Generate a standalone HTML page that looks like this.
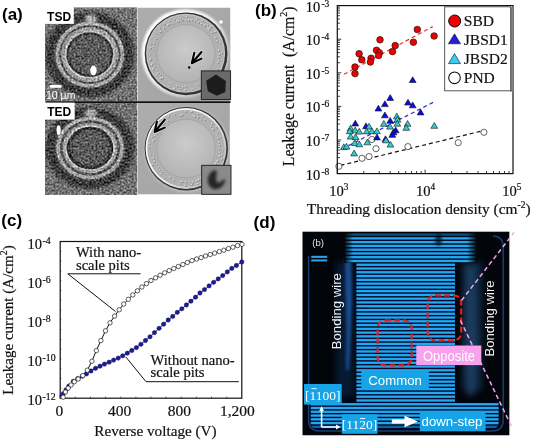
<!DOCTYPE html>
<html><head><meta charset="utf-8"><style>
html,body{margin:0;padding:0;background:#fff;}
svg{display:block;will-change:transform;}
</style></head><body>
<svg width="533" height="440" viewBox="0 0 533 440">
<rect width="533" height="440" fill="#fff"/>
<text x="2" y="19.9" font-family="Liberation Sans" font-weight="bold" font-size="17" fill="#000">(a)</text>
<defs>
<filter id="nzA" x="0" y="0" width="100%" height="100%" color-interpolation-filters="sRGB">
 <feTurbulence type="fractalNoise" baseFrequency="0.5" numOctaves="2" seed="4" result="t"/>
 <feColorMatrix in="t" type="matrix" values="1 0 0 0 0  1 0 0 0 0  1 0 0 0 0  0 0 0 0 1" result="g"/>
 <feComposite in="SourceGraphic" in2="g" operator="arithmetic" k1="0" k2="1" k3="0.8" k4="-0.4"/>
</filter>
<filter id="nzB" x="0" y="0" width="100%" height="100%" color-interpolation-filters="sRGB">
 <feTurbulence type="fractalNoise" baseFrequency="0.5" numOctaves="2" seed="11" result="t"/>
 <feColorMatrix in="t" type="matrix" values="1 0 0 0 0  1 0 0 0 0  1 0 0 0 0  0 0 0 0 1" result="g"/>
 <feComposite in="SourceGraphic" in2="g" operator="arithmetic" k1="0" k2="1" k3="0.8" k4="-0.4"/>
</filter>
<filter id="bA1" color-interpolation-filters="sRGB"><feGaussianBlur stdDeviation="0.55"/></filter>
<filter id="bA2" color-interpolation-filters="sRGB" x="-20%" y="-20%" width="140%" height="140%"><feGaussianBlur stdDeviation="1.6"/></filter>
<filter id="bA3" color-interpolation-filters="sRGB" x="-30%" y="-30%" width="160%" height="160%"><feGaussianBlur stdDeviation="3"/></filter>
<filter id="bAr" color-interpolation-filters="sRGB" x="-30%" y="-30%" width="160%" height="160%"><feGaussianBlur stdDeviation="0.6"/></filter>
<radialGradient id="diskg" cx="0.5" cy="0.42" r="0.55">
 <stop offset="0" stop-color="#cbcbcb"/><stop offset="0.55" stop-color="#bfbfbf"/><stop offset="1" stop-color="#b5b5b5"/>
</radialGradient>
<linearGradient id="haloG" x1="0.1" y1="0.2" x2="0.9" y2="0.8"><stop offset="0" stop-color="#ffffff"/><stop offset="0.5" stop-color="#efefef"/><stop offset="1" stop-color="#bbbbbb"/></linearGradient>
<filter id="bA2h" color-interpolation-filters="sRGB" x="-20%" y="-20%" width="140%" height="140%"><feGaussianBlur stdDeviation="0.9"/></filter>
<linearGradient id="bgR" x1="0" y1="0" x2="1" y2="1"><stop offset="0" stop-color="#adadad"/><stop offset="1" stop-color="#a2a2a2"/></linearGradient>
<clipPath id="cTL"><rect x="45" y="7.5" width="92.3" height="93.8"/></clipPath>
<clipPath id="cBL"><rect x="45" y="102.9" width="92.3" height="92.1"/></clipPath>
<clipPath id="cTR"><rect x="137.8" y="7.5" width="92.7" height="93.8"/></clipPath>
<clipPath id="cBR"><rect x="137.8" y="102.9" width="92" height="91.7"/></clipPath>
</defs>
<g clip-path="url(#cTL)"><g filter="url(#nzA)">
<rect x="45" y="7.5" width="93" height="93.8" fill="#727272"/>
<g transform="translate(89.8,54.6) scale(1,0.96)">
<g filter="url(#bA2)"><circle r="39.5" fill="none" stroke="#3a3a3a" stroke-width="10"/></g>
<g filter="url(#bA1)">
<circle r="34.3" fill="#aaaaaa"/>
<circle r="30.7" fill="#505050"/>
<circle r="28.8" fill="#9c9c9c"/>
<circle r="24.2" fill="none" stroke="#c4c4c4" stroke-width="1.8"/>
<circle r="23.3" fill="#333333"/>
<circle r="21.3" fill="#5a5a5a"/>
</g>
<g filter="url(#bA2)"><ellipse cx="1" cy="-37.3" rx="6.2" ry="4.2" fill="#b8b8b8"/></g>
</g>
</g>
<g filter="url(#bAr)"><ellipse cx="93.4" cy="70.5" rx="3.2" ry="5" fill="#ffffff"/></g>
</g>
<g clip-path="url(#cBL)"><g filter="url(#nzB)">
<rect x="45" y="102.9" width="93" height="92.1" fill="#727272"/>
<g transform="translate(90,148) scale(1,0.92)">
<g filter="url(#bA2)"><circle r="39.5" fill="none" stroke="#3a3a3a" stroke-width="10"/></g>
<g filter="url(#bA1)">
<circle r="33.7" fill="#aaaaaa"/>
<circle r="30.2" fill="#505050"/>
<circle r="27.5" fill="#9c9c9c"/>
<circle r="24.1" fill="none" stroke="#c4c4c4" stroke-width="1.8"/>
<circle r="23.2" fill="#333333"/>
<circle r="19.7" fill="#5a5a5a"/>
</g>
<g filter="url(#bA2)"><ellipse cx="1" cy="-37.8" rx="6.2" ry="4.2" fill="#b8b8b8"/></g>
</g>
</g>
<g filter="url(#bAr)"><ellipse cx="58.6" cy="130.2" rx="2.1" ry="4.9" fill="#ffffff"/></g>
</g>
<g clip-path="url(#cTR)">
<rect x="137.8" y="7.5" width="92.7" height="93.8" fill="url(#bgR)"/>
<g filter="url(#bA1)">
</g>
<g filter="url(#bA2h)"><circle cx="185.6" cy="53.3" r="44.1" fill="url(#haloG)"/></g>
<g filter="url(#bA1)">
<circle cx="186.1" cy="53.8" r="41.4" fill="#333333"/>
<circle cx="185.6" cy="53.3" r="39.5" fill="#c6c6c6"/>
<circle cx="185.6" cy="53.3" r="38.3" fill="#b1b1b1"/>
<circle cx="185.9" cy="53.6" r="29" fill="url(#diskg)" stroke="#a4a4a4" stroke-width="0.9"/>
</g>
<g opacity="0.9" filter="url(#bA1)"><circle cx="220.16" cy="54.64" r="0.98" fill="#7e7e7e"/><circle cx="219.31" cy="53.79" r="0.88" fill="#e2e2e2"/><circle cx="218.84" cy="58.17" r="0.79" fill="#7e7e7e"/><circle cx="217.99" cy="57.32" r="0.71" fill="#e2e2e2"/><circle cx="219.6" cy="61.05" r="0.65" fill="#7e7e7e"/><circle cx="218.75" cy="60.2" r="0.58" fill="#e2e2e2"/><circle cx="218.52" cy="63.35" r="0.83" fill="#7e7e7e"/><circle cx="217.67" cy="62.5" r="0.75" fill="#e2e2e2"/><circle cx="213.97" cy="73.55" r="0.66" fill="#7e7e7e"/><circle cx="213.12" cy="72.7" r="0.6" fill="#e2e2e2"/><circle cx="212.77" cy="74.81" r="0.65" fill="#7e7e7e"/><circle cx="211.92" cy="73.96" r="0.59" fill="#e2e2e2"/><circle cx="207.76" cy="79.22" r="0.99" fill="#7e7e7e"/><circle cx="206.91" cy="78.37" r="0.89" fill="#e2e2e2"/><circle cx="205.66" cy="82.13" r="0.82" fill="#7e7e7e"/><circle cx="204.81" cy="81.28" r="0.73" fill="#e2e2e2"/><circle cx="202.97" cy="83.77" r="0.88" fill="#7e7e7e"/><circle cx="202.12" cy="82.92" r="0.79" fill="#e2e2e2"/><circle cx="198.36" cy="84.94" r="0.74" fill="#7e7e7e"/><circle cx="197.51" cy="84.09" r="0.67" fill="#e2e2e2"/><circle cx="186.25" cy="86.75" r="0.87" fill="#7e7e7e"/><circle cx="185.4" cy="85.9" r="0.78" fill="#e2e2e2"/><circle cx="183.53" cy="87.77" r="0.79" fill="#7e7e7e"/><circle cx="182.68" cy="86.92" r="0.71" fill="#e2e2e2"/><circle cx="179.93" cy="87.1" r="0.62" fill="#7e7e7e"/><circle cx="179.08" cy="86.25" r="0.56" fill="#e2e2e2"/><circle cx="177.61" cy="86.62" r="0.94" fill="#7e7e7e"/><circle cx="176.76" cy="85.77" r="0.84" fill="#e2e2e2"/><circle cx="170.94" cy="83.74" r="0.6" fill="#7e7e7e"/><circle cx="170.09" cy="82.89" r="0.54" fill="#e2e2e2"/><circle cx="163.09" cy="78.38" r="0.97" fill="#7e7e7e"/><circle cx="162.24" cy="77.53" r="0.87" fill="#e2e2e2"/><circle cx="161.06" cy="75.38" r="0.81" fill="#7e7e7e"/><circle cx="160.21" cy="74.53" r="0.73" fill="#e2e2e2"/><circle cx="158.92" cy="73.5" r="0.92" fill="#7e7e7e"/><circle cx="158.07" cy="72.65" r="0.83" fill="#e2e2e2"/><circle cx="156.99" cy="70.97" r="0.64" fill="#7e7e7e"/><circle cx="156.14" cy="70.12" r="0.57" fill="#e2e2e2"/><circle cx="155.06" cy="66.91" r="0.74" fill="#7e7e7e"/><circle cx="154.21" cy="66.06" r="0.66" fill="#e2e2e2"/><circle cx="154.81" cy="63.65" r="0.73" fill="#7e7e7e"/><circle cx="153.96" cy="62.8" r="0.65" fill="#e2e2e2"/><circle cx="153.89" cy="49.96" r="0.62" fill="#7e7e7e"/><circle cx="153.04" cy="49.11" r="0.56" fill="#e2e2e2"/><circle cx="153.93" cy="47.61" r="0.69" fill="#7e7e7e"/><circle cx="153.08" cy="46.76" r="0.63" fill="#e2e2e2"/><circle cx="154.84" cy="43.88" r="0.77" fill="#7e7e7e"/><circle cx="153.99" cy="43.03" r="0.69" fill="#e2e2e2"/><circle cx="156.66" cy="39.29" r="0.94" fill="#7e7e7e"/><circle cx="155.81" cy="38.44" r="0.84" fill="#e2e2e2"/><circle cx="161.15" cy="32.22" r="0.92" fill="#7e7e7e"/><circle cx="160.3" cy="31.37" r="0.82" fill="#e2e2e2"/><circle cx="164.47" cy="28.49" r="0.72" fill="#7e7e7e"/><circle cx="163.62" cy="27.64" r="0.65" fill="#e2e2e2"/><circle cx="168.53" cy="25.5" r="0.99" fill="#7e7e7e"/><circle cx="167.68" cy="24.65" r="0.89" fill="#e2e2e2"/><circle cx="170.58" cy="24.51" r="0.79" fill="#7e7e7e"/><circle cx="169.73" cy="23.66" r="0.71" fill="#e2e2e2"/><circle cx="173.72" cy="23.92" r="0.75" fill="#7e7e7e"/><circle cx="172.87" cy="23.07" r="0.68" fill="#e2e2e2"/><circle cx="177.62" cy="21.86" r="0.8" fill="#7e7e7e"/><circle cx="176.77" cy="21.01" r="0.72" fill="#e2e2e2"/><circle cx="179.22" cy="21.97" r="0.91" fill="#7e7e7e"/><circle cx="178.37" cy="21.12" r="0.82" fill="#e2e2e2"/><circle cx="182.87" cy="20.64" r="0.91" fill="#7e7e7e"/><circle cx="182.02" cy="19.79" r="0.82" fill="#e2e2e2"/><circle cx="186.78" cy="20.49" r="0.75" fill="#7e7e7e"/><circle cx="185.93" cy="19.64" r="0.67" fill="#e2e2e2"/><circle cx="189.28" cy="20.99" r="0.91" fill="#7e7e7e"/><circle cx="188.43" cy="20.14" r="0.82" fill="#e2e2e2"/><circle cx="192.66" cy="20.8" r="0.86" fill="#7e7e7e"/><circle cx="191.81" cy="19.95" r="0.77" fill="#e2e2e2"/><circle cx="195.2" cy="21.95" r="0.7" fill="#7e7e7e"/><circle cx="194.35" cy="21.1" r="0.63" fill="#e2e2e2"/><circle cx="199.29" cy="22.95" r="0.86" fill="#7e7e7e"/><circle cx="198.44" cy="22.1" r="0.77" fill="#e2e2e2"/><circle cx="201.97" cy="24.46" r="0.9" fill="#7e7e7e"/><circle cx="201.12" cy="23.61" r="0.81" fill="#e2e2e2"/><circle cx="204.96" cy="25.9" r="0.95" fill="#7e7e7e"/><circle cx="204.11" cy="25.05" r="0.85" fill="#e2e2e2"/><circle cx="208.72" cy="28.54" r="0.81" fill="#7e7e7e"/><circle cx="207.87" cy="27.69" r="0.73" fill="#e2e2e2"/><circle cx="209.85" cy="29.8" r="0.97" fill="#7e7e7e"/><circle cx="209" cy="28.95" r="0.88" fill="#e2e2e2"/><circle cx="212.67" cy="33.13" r="0.89" fill="#7e7e7e"/><circle cx="211.82" cy="32.28" r="0.8" fill="#e2e2e2"/><circle cx="216.1" cy="38.49" r="0.77" fill="#7e7e7e"/><circle cx="215.25" cy="37.64" r="0.69" fill="#e2e2e2"/><circle cx="217.6" cy="41.85" r="0.89" fill="#7e7e7e"/><circle cx="216.75" cy="41" r="0.8" fill="#e2e2e2"/><circle cx="219.23" cy="51.22" r="0.87" fill="#7e7e7e"/><circle cx="218.38" cy="50.37" r="0.79" fill="#e2e2e2"/><circle cx="222.59" cy="53.16" r="0.69" fill="#7e7e7e"/><circle cx="221.74" cy="52.31" r="0.62" fill="#e2e2e2"/><circle cx="218.52" cy="69.72" r="0.61" fill="#7e7e7e"/><circle cx="217.67" cy="68.87" r="0.55" fill="#e2e2e2"/><circle cx="216.05" cy="75.33" r="0.84" fill="#7e7e7e"/><circle cx="215.2" cy="74.48" r="0.75" fill="#e2e2e2"/><circle cx="208.49" cy="82.65" r="0.71" fill="#7e7e7e"/><circle cx="207.64" cy="81.8" r="0.64" fill="#e2e2e2"/><circle cx="203.91" cy="86.54" r="0.75" fill="#7e7e7e"/><circle cx="203.06" cy="85.69" r="0.67" fill="#e2e2e2"/><circle cx="193" cy="89.84" r="0.74" fill="#7e7e7e"/><circle cx="192.15" cy="88.99" r="0.66" fill="#e2e2e2"/><circle cx="185.44" cy="90.91" r="0.77" fill="#7e7e7e"/><circle cx="184.59" cy="90.06" r="0.69" fill="#e2e2e2"/><circle cx="180.52" cy="89.62" r="0.66" fill="#7e7e7e"/><circle cx="179.67" cy="88.77" r="0.59" fill="#e2e2e2"/><circle cx="174.87" cy="89.32" r="0.99" fill="#7e7e7e"/><circle cx="174.02" cy="88.47" r="0.89" fill="#e2e2e2"/><circle cx="169.99" cy="87.18" r="0.6" fill="#7e7e7e"/><circle cx="169.14" cy="86.33" r="0.54" fill="#e2e2e2"/><circle cx="161.14" cy="79.12" r="0.85" fill="#7e7e7e"/><circle cx="160.29" cy="78.27" r="0.77" fill="#e2e2e2"/><circle cx="157.42" cy="75.57" r="0.69" fill="#7e7e7e"/><circle cx="156.57" cy="74.72" r="0.62" fill="#e2e2e2"/><circle cx="153.94" cy="69.57" r="0.98" fill="#7e7e7e"/><circle cx="153.09" cy="68.72" r="0.89" fill="#e2e2e2"/><circle cx="152.37" cy="65.01" r="0.99" fill="#7e7e7e"/><circle cx="151.52" cy="64.16" r="0.89" fill="#e2e2e2"/><circle cx="151.05" cy="59.94" r="0.99" fill="#7e7e7e"/><circle cx="150.2" cy="59.09" r="0.89" fill="#e2e2e2"/><circle cx="150.29" cy="54.61" r="0.65" fill="#7e7e7e"/><circle cx="149.44" cy="53.76" r="0.58" fill="#e2e2e2"/><circle cx="151.04" cy="48.67" r="0.91" fill="#7e7e7e"/><circle cx="150.19" cy="47.82" r="0.82" fill="#e2e2e2"/><circle cx="151.65" cy="43.96" r="0.71" fill="#7e7e7e"/><circle cx="150.8" cy="43.11" r="0.64" fill="#e2e2e2"/><circle cx="154.88" cy="37.39" r="0.71" fill="#7e7e7e"/><circle cx="154.03" cy="36.54" r="0.64" fill="#e2e2e2"/><circle cx="160.4" cy="28.74" r="0.79" fill="#7e7e7e"/><circle cx="159.55" cy="27.89" r="0.71" fill="#e2e2e2"/><circle cx="165.1" cy="24.38" r="0.65" fill="#7e7e7e"/><circle cx="164.25" cy="23.53" r="0.58" fill="#e2e2e2"/><circle cx="169.6" cy="22.04" r="0.73" fill="#7e7e7e"/><circle cx="168.75" cy="21.19" r="0.66" fill="#e2e2e2"/><circle cx="175.35" cy="19.76" r="0.74" fill="#7e7e7e"/><circle cx="174.5" cy="18.91" r="0.67" fill="#e2e2e2"/><circle cx="181.11" cy="19.19" r="0.7" fill="#7e7e7e"/><circle cx="180.26" cy="18.34" r="0.63" fill="#e2e2e2"/><circle cx="187.37" cy="17.26" r="0.82" fill="#7e7e7e"/><circle cx="186.52" cy="16.41" r="0.74" fill="#e2e2e2"/><circle cx="197.53" cy="19.54" r="0.88" fill="#7e7e7e"/><circle cx="196.68" cy="18.69" r="0.79" fill="#e2e2e2"/><circle cx="203.19" cy="21.22" r="0.75" fill="#7e7e7e"/><circle cx="202.34" cy="20.37" r="0.68" fill="#e2e2e2"/><circle cx="208.01" cy="25.75" r="0.72" fill="#7e7e7e"/><circle cx="207.16" cy="24.9" r="0.65" fill="#e2e2e2"/><circle cx="211.79" cy="27.46" r="0.88" fill="#7e7e7e"/><circle cx="210.94" cy="26.61" r="0.79" fill="#e2e2e2"/><circle cx="215.87" cy="32.2" r="0.96" fill="#7e7e7e"/><circle cx="215.02" cy="31.35" r="0.87" fill="#e2e2e2"/><circle cx="220.91" cy="43.07" r="0.73" fill="#7e7e7e"/><circle cx="220.06" cy="42.22" r="0.66" fill="#e2e2e2"/></g>
</g>
<g clip-path="url(#cBR)">
<rect x="137.8" y="102.9" width="92.7" height="91.7" fill="url(#bgR)"/>
<g filter="url(#bA1)">
</g>
<g filter="url(#bA2h)"><circle cx="186.9" cy="149.6" r="43" fill="#bcbcbc"/></g>
<g filter="url(#bA1)">
<circle cx="186.3" cy="148.8" r="41.7" fill="#333333"/>
<circle cx="186" cy="148.5" r="40.4" fill="url(#haloG)"/>
<circle cx="185.8" cy="148.3" r="38.6" fill="#b1b1b1"/>
<circle cx="186.1" cy="148.6" r="29.3" fill="url(#diskg)" stroke="#a4a4a4" stroke-width="0.9"/>
</g>
<g opacity="0.9" filter="url(#bA1)"><circle cx="219.64" cy="149.77" r="0.69" fill="#7e7e7e"/><circle cx="218.79" cy="148.92" r="0.62" fill="#e2e2e2"/><circle cx="220.25" cy="153.05" r="0.61" fill="#7e7e7e"/><circle cx="219.4" cy="152.2" r="0.55" fill="#e2e2e2"/><circle cx="220.08" cy="156.8" r="0.88" fill="#7e7e7e"/><circle cx="219.23" cy="155.95" r="0.79" fill="#e2e2e2"/><circle cx="218.09" cy="161.56" r="0.98" fill="#7e7e7e"/><circle cx="217.24" cy="160.71" r="0.88" fill="#e2e2e2"/><circle cx="216.36" cy="164.2" r="0.97" fill="#7e7e7e"/><circle cx="215.51" cy="163.35" r="0.87" fill="#e2e2e2"/><circle cx="212.36" cy="170.03" r="0.85" fill="#7e7e7e"/><circle cx="211.51" cy="169.18" r="0.76" fill="#e2e2e2"/><circle cx="205.67" cy="176.09" r="0.83" fill="#7e7e7e"/><circle cx="204.82" cy="175.24" r="0.75" fill="#e2e2e2"/><circle cx="201.58" cy="178.68" r="0.77" fill="#7e7e7e"/><circle cx="200.73" cy="177.83" r="0.7" fill="#e2e2e2"/><circle cx="199.32" cy="180.26" r="0.98" fill="#7e7e7e"/><circle cx="198.47" cy="179.41" r="0.88" fill="#e2e2e2"/><circle cx="197.34" cy="181.29" r="0.66" fill="#7e7e7e"/><circle cx="196.49" cy="180.44" r="0.59" fill="#e2e2e2"/><circle cx="193.31" cy="182.67" r="0.82" fill="#7e7e7e"/><circle cx="192.46" cy="181.82" r="0.74" fill="#e2e2e2"/><circle cx="190.43" cy="182.61" r="0.7" fill="#7e7e7e"/><circle cx="189.58" cy="181.76" r="0.63" fill="#e2e2e2"/><circle cx="186.62" cy="182.24" r="0.69" fill="#7e7e7e"/><circle cx="185.77" cy="181.39" r="0.62" fill="#e2e2e2"/><circle cx="182.93" cy="182.09" r="0.89" fill="#7e7e7e"/><circle cx="182.08" cy="181.24" r="0.8" fill="#e2e2e2"/><circle cx="180.88" cy="182.49" r="0.64" fill="#7e7e7e"/><circle cx="180.03" cy="181.64" r="0.57" fill="#e2e2e2"/><circle cx="174.09" cy="180.88" r="0.79" fill="#7e7e7e"/><circle cx="173.24" cy="180.03" r="0.71" fill="#e2e2e2"/><circle cx="170.61" cy="177.92" r="0.89" fill="#7e7e7e"/><circle cx="169.76" cy="177.07" r="0.8" fill="#e2e2e2"/><circle cx="162.91" cy="172.38" r="0.65" fill="#7e7e7e"/><circle cx="162.06" cy="171.53" r="0.58" fill="#e2e2e2"/><circle cx="160.12" cy="170.49" r="0.66" fill="#7e7e7e"/><circle cx="159.27" cy="169.64" r="0.59" fill="#e2e2e2"/><circle cx="159.18" cy="167.85" r="0.73" fill="#7e7e7e"/><circle cx="158.33" cy="167" r="0.66" fill="#e2e2e2"/><circle cx="157.3" cy="165.18" r="0.65" fill="#7e7e7e"/><circle cx="156.45" cy="164.33" r="0.59" fill="#e2e2e2"/><circle cx="155.1" cy="161.89" r="0.77" fill="#7e7e7e"/><circle cx="154.25" cy="161.04" r="0.7" fill="#e2e2e2"/><circle cx="154.36" cy="158.91" r="0.83" fill="#7e7e7e"/><circle cx="153.51" cy="158.06" r="0.75" fill="#e2e2e2"/><circle cx="154.29" cy="155.8" r="0.61" fill="#7e7e7e"/><circle cx="153.44" cy="154.95" r="0.55" fill="#e2e2e2"/><circle cx="152.85" cy="145.86" r="0.6" fill="#7e7e7e"/><circle cx="152" cy="145.01" r="0.54" fill="#e2e2e2"/><circle cx="153.69" cy="141.79" r="0.77" fill="#7e7e7e"/><circle cx="152.84" cy="140.94" r="0.69" fill="#e2e2e2"/><circle cx="154.74" cy="140.3" r="0.66" fill="#7e7e7e"/><circle cx="153.89" cy="139.45" r="0.6" fill="#e2e2e2"/><circle cx="155.03" cy="136.3" r="0.66" fill="#7e7e7e"/><circle cx="154.18" cy="135.45" r="0.59" fill="#e2e2e2"/><circle cx="157.23" cy="133.93" r="0.71" fill="#7e7e7e"/><circle cx="156.38" cy="133.08" r="0.64" fill="#e2e2e2"/><circle cx="159.62" cy="128.21" r="0.75" fill="#7e7e7e"/><circle cx="158.77" cy="127.36" r="0.67" fill="#e2e2e2"/><circle cx="162.99" cy="124.95" r="0.79" fill="#7e7e7e"/><circle cx="162.14" cy="124.1" r="0.71" fill="#e2e2e2"/><circle cx="164.59" cy="123.49" r="0.72" fill="#7e7e7e"/><circle cx="163.74" cy="122.64" r="0.64" fill="#e2e2e2"/><circle cx="168.63" cy="121.35" r="0.68" fill="#7e7e7e"/><circle cx="167.78" cy="120.5" r="0.61" fill="#e2e2e2"/><circle cx="181.07" cy="116.21" r="0.72" fill="#7e7e7e"/><circle cx="180.22" cy="115.36" r="0.65" fill="#e2e2e2"/><circle cx="182.89" cy="115.43" r="0.89" fill="#7e7e7e"/><circle cx="182.04" cy="114.58" r="0.8" fill="#e2e2e2"/><circle cx="194.12" cy="116.18" r="0.77" fill="#7e7e7e"/><circle cx="193.27" cy="115.33" r="0.7" fill="#e2e2e2"/><circle cx="195.29" cy="117.32" r="0.91" fill="#7e7e7e"/><circle cx="194.44" cy="116.47" r="0.82" fill="#e2e2e2"/><circle cx="198.68" cy="117.7" r="1" fill="#7e7e7e"/><circle cx="197.83" cy="116.85" r="0.9" fill="#e2e2e2"/><circle cx="201.96" cy="119.88" r="0.63" fill="#7e7e7e"/><circle cx="201.11" cy="119.03" r="0.57" fill="#e2e2e2"/><circle cx="205.64" cy="120.7" r="0.62" fill="#7e7e7e"/><circle cx="204.79" cy="119.85" r="0.56" fill="#e2e2e2"/><circle cx="211.79" cy="127.38" r="0.76" fill="#7e7e7e"/><circle cx="210.94" cy="126.53" r="0.69" fill="#e2e2e2"/><circle cx="213.55" cy="130.11" r="0.99" fill="#7e7e7e"/><circle cx="212.7" cy="129.26" r="0.89" fill="#e2e2e2"/><circle cx="217.66" cy="136.09" r="0.63" fill="#7e7e7e"/><circle cx="216.81" cy="135.24" r="0.57" fill="#e2e2e2"/><circle cx="218.62" cy="138.62" r="0.97" fill="#7e7e7e"/><circle cx="217.77" cy="137.77" r="0.87" fill="#e2e2e2"/><circle cx="219.34" cy="143.37" r="0.61" fill="#7e7e7e"/><circle cx="218.49" cy="142.52" r="0.55" fill="#e2e2e2"/><circle cx="220.19" cy="145.82" r="0.75" fill="#7e7e7e"/><circle cx="219.34" cy="144.97" r="0.68" fill="#e2e2e2"/><circle cx="223.89" cy="149.65" r="0.72" fill="#7e7e7e"/><circle cx="223.04" cy="148.8" r="0.65" fill="#e2e2e2"/><circle cx="222.09" cy="155.48" r="0.65" fill="#7e7e7e"/><circle cx="221.24" cy="154.63" r="0.58" fill="#e2e2e2"/><circle cx="222.1" cy="159.71" r="0.93" fill="#7e7e7e"/><circle cx="221.25" cy="158.86" r="0.83" fill="#e2e2e2"/><circle cx="218.85" cy="164.67" r="0.7" fill="#7e7e7e"/><circle cx="218" cy="163.82" r="0.63" fill="#e2e2e2"/><circle cx="212.02" cy="174.75" r="0.62" fill="#7e7e7e"/><circle cx="211.17" cy="173.9" r="0.56" fill="#e2e2e2"/><circle cx="208.57" cy="177.66" r="0.71" fill="#7e7e7e"/><circle cx="207.72" cy="176.81" r="0.64" fill="#e2e2e2"/><circle cx="203.93" cy="181.14" r="0.73" fill="#7e7e7e"/><circle cx="203.08" cy="180.29" r="0.65" fill="#e2e2e2"/><circle cx="198.03" cy="184.58" r="0.86" fill="#7e7e7e"/><circle cx="197.18" cy="183.73" r="0.78" fill="#e2e2e2"/><circle cx="192.18" cy="185.12" r="0.93" fill="#7e7e7e"/><circle cx="191.33" cy="184.27" r="0.83" fill="#e2e2e2"/><circle cx="185.64" cy="186.05" r="0.88" fill="#7e7e7e"/><circle cx="184.79" cy="185.2" r="0.79" fill="#e2e2e2"/><circle cx="180.3" cy="184.88" r="0.65" fill="#7e7e7e"/><circle cx="179.45" cy="184.03" r="0.59" fill="#e2e2e2"/><circle cx="165.12" cy="178.14" r="0.63" fill="#7e7e7e"/><circle cx="164.27" cy="177.29" r="0.56" fill="#e2e2e2"/><circle cx="161.36" cy="174.27" r="0.62" fill="#7e7e7e"/><circle cx="160.51" cy="173.42" r="0.56" fill="#e2e2e2"/><circle cx="153.05" cy="165.37" r="0.84" fill="#7e7e7e"/><circle cx="152.2" cy="164.52" r="0.76" fill="#e2e2e2"/><circle cx="150.95" cy="155.11" r="0.6" fill="#7e7e7e"/><circle cx="150.1" cy="154.26" r="0.54" fill="#e2e2e2"/><circle cx="149.75" cy="148.43" r="0.64" fill="#7e7e7e"/><circle cx="148.9" cy="147.58" r="0.57" fill="#e2e2e2"/><circle cx="150.12" cy="144.1" r="0.78" fill="#7e7e7e"/><circle cx="149.27" cy="143.25" r="0.7" fill="#e2e2e2"/><circle cx="152.79" cy="137.48" r="0.73" fill="#7e7e7e"/><circle cx="151.94" cy="136.63" r="0.65" fill="#e2e2e2"/><circle cx="154.2" cy="132.71" r="0.78" fill="#7e7e7e"/><circle cx="153.35" cy="131.86" r="0.7" fill="#e2e2e2"/><circle cx="157.65" cy="126.89" r="0.99" fill="#7e7e7e"/><circle cx="156.8" cy="126.04" r="0.89" fill="#e2e2e2"/><circle cx="159.82" cy="123.57" r="0.77" fill="#7e7e7e"/><circle cx="158.97" cy="122.72" r="0.69" fill="#e2e2e2"/><circle cx="169.11" cy="116.98" r="0.79" fill="#7e7e7e"/><circle cx="168.26" cy="116.13" r="0.71" fill="#e2e2e2"/><circle cx="175.31" cy="115" r="0.71" fill="#7e7e7e"/><circle cx="174.46" cy="114.15" r="0.64" fill="#e2e2e2"/><circle cx="186.33" cy="112.2" r="0.7" fill="#7e7e7e"/><circle cx="185.48" cy="111.35" r="0.63" fill="#e2e2e2"/><circle cx="191.94" cy="112.16" r="0.94" fill="#7e7e7e"/><circle cx="191.09" cy="111.31" r="0.84" fill="#e2e2e2"/><circle cx="198.12" cy="114.69" r="0.66" fill="#7e7e7e"/><circle cx="197.27" cy="113.84" r="0.59" fill="#e2e2e2"/><circle cx="202.82" cy="117.36" r="0.67" fill="#7e7e7e"/><circle cx="201.97" cy="116.51" r="0.6" fill="#e2e2e2"/><circle cx="212.68" cy="124.34" r="0.92" fill="#7e7e7e"/><circle cx="211.83" cy="123.49" r="0.83" fill="#e2e2e2"/><circle cx="216.95" cy="127.64" r="0.85" fill="#7e7e7e"/><circle cx="216.1" cy="126.79" r="0.76" fill="#e2e2e2"/><circle cx="218.27" cy="132.74" r="0.8" fill="#7e7e7e"/><circle cx="217.42" cy="131.89" r="0.72" fill="#e2e2e2"/><circle cx="220.96" cy="137.28" r="0.73" fill="#7e7e7e"/><circle cx="220.11" cy="136.43" r="0.65" fill="#e2e2e2"/></g>
</g>
<g filter="url(#bAr)"><circle cx="221" cy="22" r="1.8" fill="#fff"/></g>
<rect x="201.3" y="70.9" width="29.3" height="28.6" fill="#6a6a6a" stroke="#1a1a1a" stroke-width="0.9"/>
<g filter="url(#bAr)"><polygon points="216,74.4 225.8,81.1 225.4,92.1 216.8,95.8 207.8,91.3 206.2,80.7" fill="#1c1c1c"/></g>
<rect x="201.7" y="165.3" width="29.3" height="29" fill="#8a8a8a" stroke="#1a1a1a" stroke-width="0.9"/>
<g filter="url(#bA2)"><path d="M214.5,170 C210,172 207.5,176 207.8,181 C208.2,186 211.5,189.5 216,189.3 C220.5,189 224,185.5 225.5,180 C224.5,179 223,179.5 221.5,181 C219.5,183 217.5,183 216.5,181 C215.8,179 216.5,175 217,171.5 Z" fill="#262626"/></g>
<path d="M201.5,52 L191.8,63.2 M194.3,52.8 L191.8,63.2 L201.5,58.6" stroke="#fff" stroke-opacity="0.5" stroke-width="3.7" fill="none" stroke-linecap="round" stroke-linejoin="round"/><path d="M201.5,52 L191.8,63.2 M194.3,52.8 L191.8,63.2 L201.5,58.6" stroke="#000" stroke-width="2.1" fill="none" stroke-linecap="round" stroke-linejoin="round"/>
<circle cx="189.2" cy="67.5" r="1.2" fill="#000"/>
<path d="M164.8,119.6 L154.6,132 M156.9,121.6 L154.6,132 L164.8,127.6" stroke="#fff" stroke-opacity="0.5" stroke-width="3.7" fill="none" stroke-linecap="round" stroke-linejoin="round"/><path d="M164.8,119.6 L154.6,132 M156.9,121.6 L154.6,132 L164.8,127.6" stroke="#000" stroke-width="2.1" fill="none" stroke-linecap="round" stroke-linejoin="round"/>
<rect x="45.5" y="101.2" width="185" height="1.8" fill="#111"/>
<rect x="44" y="6" width="29.8" height="17.9" fill="#fff"/>
<text x="47.1" y="20.6" font-family="Liberation Sans" font-weight="bold" font-size="12" fill="#000">TSD</text>
<rect x="44" y="102.6" width="30.6" height="17" fill="#fff"/>
<text x="47.2" y="115.6" font-family="Liberation Sans" font-weight="bold" font-size="12" fill="#000">TED</text>
<rect x="50" y="85" width="11.5" height="2.8" fill="#fff"/>
<text x="46" y="98.8" font-family="Liberation Sans" font-size="10.5" fill="#fff">10 &#181;m</text>
<text x="255" y="15.5" font-family="Liberation Sans" font-weight="bold" font-size="17" fill="#000">(b)</text>
<path d="M337.3,173.6h4M337.3,163.49h2.6M337.3,157.57h2.6M337.3,153.37h2.6M337.3,150.11h2.6M337.3,147.45h2.6M337.3,145.2h2.6M337.3,143.26h2.6M337.3,141.54h2.6M337.3,140h4M337.3,129.89h2.6M337.3,123.97h2.6M337.3,119.77h2.6M337.3,116.51h2.6M337.3,113.85h2.6M337.3,111.6h2.6M337.3,109.66h2.6M337.3,107.94h2.6M337.3,106.4h4M337.3,96.29h2.6M337.3,90.37h2.6M337.3,86.17h2.6M337.3,82.91h2.6M337.3,80.25h2.6M337.3,78h2.6M337.3,76.06h2.6M337.3,74.34h2.6M337.3,72.8h4M337.3,62.69h2.6M337.3,56.77h2.6M337.3,52.57h2.6M337.3,49.31h2.6M337.3,46.65h2.6M337.3,44.4h2.6M337.3,42.46h2.6M337.3,40.74h2.6M337.3,39.2h4M337.3,29.09h2.6M337.3,23.17h2.6M337.3,18.97h2.6M337.3,15.71h2.6M337.3,13.05h2.6M337.3,10.8h2.6M337.3,8.86h2.6M337.3,7.14h2.6M337.3,173.6v-4M363.75,173.6v-2.6M379.22,173.6v-2.6M390.19,173.6v-2.6M398.7,173.6v-2.6M405.66,173.6v-2.6M411.54,173.6v-2.6M416.64,173.6v-2.6M421.13,173.6v-2.6M425.15,173.6v-4M451.6,173.6v-2.6M467.07,173.6v-2.6M478.04,173.6v-2.6M486.55,173.6v-2.6M493.51,173.6v-2.6M499.39,173.6v-2.6M504.49,173.6v-2.6M508.98,173.6v-2.6" stroke="#222" stroke-width="0.9" fill="none"/>
<line x1="344" y1="74.3" x2="432.7" y2="26.6" stroke="#e83030" stroke-width="1.2" stroke-dasharray="4 3"/>
<line x1="348.5" y1="145.6" x2="434.3" y2="101.8" stroke="#2a2ae0" stroke-width="1.2" stroke-dasharray="4 3"/>
<line x1="340.5" y1="165.4" x2="480.5" y2="131.3" stroke="#111" stroke-width="1.2" stroke-dasharray="4 3"/>
<circle cx="338.9" cy="166.3" r="3.1" fill="#fff" stroke="#222" stroke-width="0.7"/>
<circle cx="362" cy="158.3" r="3.1" fill="#fff" stroke="#222" stroke-width="0.7"/>
<circle cx="369" cy="156.6" r="3.1" fill="#fff" stroke="#222" stroke-width="0.7"/>
<circle cx="376" cy="148.7" r="3.1" fill="#fff" stroke="#222" stroke-width="0.7"/>
<circle cx="371.8" cy="139.5" r="3.1" fill="#fff" stroke="#222" stroke-width="0.7"/>
<circle cx="407.9" cy="146.6" r="3.1" fill="#fff" stroke="#222" stroke-width="0.7"/>
<circle cx="458.2" cy="142.7" r="3.1" fill="#fff" stroke="#222" stroke-width="0.7"/>
<circle cx="483.9" cy="132.3" r="3.1" fill="#fff" stroke="#222" stroke-width="0.7"/>
<polygon points="412.7,76.72 409.3,82.52 416.1,82.52" fill="#0a0ae8" stroke="#111" stroke-width="0.6"/>
<polygon points="390.2,94.62 386.8,100.42 393.6,100.42" fill="#0a0ae8" stroke="#111" stroke-width="0.6"/>
<polygon points="384.9,100.82 381.5,106.62 388.3,106.62" fill="#0a0ae8" stroke="#111" stroke-width="0.6"/>
<polygon points="378.4,105.22 375,111.02 381.8,111.02" fill="#0a0ae8" stroke="#111" stroke-width="0.6"/>
<polygon points="408,99.22 404.6,105.02 411.4,105.02" fill="#0a0ae8" stroke="#111" stroke-width="0.6"/>
<polygon points="412.7,102.02 409.3,107.82 416.1,107.82" fill="#0a0ae8" stroke="#111" stroke-width="0.6"/>
<polygon points="420.6,109.12 417.2,114.92 424,114.92" fill="#0a0ae8" stroke="#111" stroke-width="0.6"/>
<polygon points="384.9,112.02 381.5,117.82 388.3,117.82" fill="#0a0ae8" stroke="#111" stroke-width="0.6"/>
<polygon points="390.2,117.52 386.8,123.32 393.6,123.32" fill="#0a0ae8" stroke="#111" stroke-width="0.6"/>
<polygon points="395.7,127.02 392.3,132.82 399.1,132.82" fill="#0a0ae8" stroke="#111" stroke-width="0.6"/>
<polygon points="393.5,129.02 390.1,134.82 396.9,134.82" fill="#0a0ae8" stroke="#111" stroke-width="0.6"/>
<polygon points="392.3,131.52 388.9,137.32 395.7,137.32" fill="#0a0ae8" stroke="#111" stroke-width="0.6"/>
<polygon points="377,134.12 373.6,139.92 380.4,139.92" fill="#0a0ae8" stroke="#111" stroke-width="0.6"/>
<polygon points="385.5,135.82 382.1,141.62 388.9,141.62" fill="#0a0ae8" stroke="#111" stroke-width="0.6"/>
<polygon points="366,122.92 362.6,128.72 369.4,128.72" fill="#0a0ae8" stroke="#111" stroke-width="0.6"/>
<polygon points="355.3,120.22 351.9,126.02 358.7,126.02" fill="#0a0ae8" stroke="#111" stroke-width="0.6"/>
<polygon points="396.8,113.12 393.4,118.92 400.2,118.92" fill="#33cccc" stroke="#111" stroke-width="0.6"/>
<polygon points="397.4,116.32 394,122.12 400.8,122.12" fill="#33cccc" stroke="#111" stroke-width="0.6"/>
<polygon points="397.3,120.42 393.9,126.22 400.7,126.22" fill="#33cccc" stroke="#111" stroke-width="0.6"/>
<polygon points="383.8,120.52 380.4,126.32 387.2,126.32" fill="#33cccc" stroke="#111" stroke-width="0.6"/>
<polygon points="390,123.32 386.6,129.12 393.4,129.12" fill="#33cccc" stroke="#111" stroke-width="0.6"/>
<polygon points="407.6,120.52 404.2,126.32 411,126.32" fill="#33cccc" stroke="#111" stroke-width="0.6"/>
<polygon points="406.3,124.52 402.9,130.32 409.7,130.32" fill="#33cccc" stroke="#111" stroke-width="0.6"/>
<polygon points="369,123.32 365.6,129.12 372.4,129.12" fill="#33cccc" stroke="#111" stroke-width="0.6"/>
<polygon points="366.7,128.12 363.3,133.92 370.1,133.92" fill="#33cccc" stroke="#111" stroke-width="0.6"/>
<polygon points="371.8,127.92 368.4,133.72 375.2,133.72" fill="#33cccc" stroke="#111" stroke-width="0.6"/>
<polygon points="376.9,127.92 373.5,133.72 380.3,133.72" fill="#33cccc" stroke="#111" stroke-width="0.6"/>
<polygon points="386,137.02 382.6,142.82 389.4,142.82" fill="#33cccc" stroke="#111" stroke-width="0.6"/>
<polygon points="367.3,139.02 363.9,144.82 370.7,144.82" fill="#33cccc" stroke="#111" stroke-width="0.6"/>
<polygon points="390.4,141.32 387,147.12 393.8,147.12" fill="#33cccc" stroke="#111" stroke-width="0.6"/>
<polygon points="350.6,125.12 347.2,130.92 354,130.92" fill="#33cccc" stroke="#111" stroke-width="0.6"/>
<polygon points="355.2,127.02 351.8,132.82 358.6,132.82" fill="#33cccc" stroke="#111" stroke-width="0.6"/>
<polygon points="359.3,128.32 355.9,134.12 362.7,134.12" fill="#33cccc" stroke="#111" stroke-width="0.6"/>
<polygon points="349.7,127.92 346.3,133.72 353.1,133.72" fill="#33cccc" stroke="#111" stroke-width="0.6"/>
<polygon points="350.6,133.32 347.2,139.12 354,139.12" fill="#33cccc" stroke="#111" stroke-width="0.6"/>
<polygon points="355.6,133.82 352.2,139.62 359,139.62" fill="#33cccc" stroke="#111" stroke-width="0.6"/>
<polygon points="354.7,139.72 351.3,145.52 358.1,145.52" fill="#33cccc" stroke="#111" stroke-width="0.6"/>
<polygon points="359.3,141.02 355.9,146.82 362.7,146.82" fill="#33cccc" stroke="#111" stroke-width="0.6"/>
<polygon points="343.8,143.82 340.4,149.62 347.2,149.62" fill="#33cccc" stroke="#111" stroke-width="0.6"/>
<polygon points="346.5,143.32 343.1,149.12 349.9,149.12" fill="#33cccc" stroke="#111" stroke-width="0.6"/>
<polygon points="354.1,150.12 350.7,155.92 357.5,155.92" fill="#33cccc" stroke="#111" stroke-width="0.6"/>
<polygon points="434.3,122.52 430.9,128.32 437.7,128.32" fill="#33cccc" stroke="#111" stroke-width="0.6"/>
<circle cx="355" cy="73.6" r="3.3" fill="#ee0000" stroke="#301010" stroke-width="0.7"/>
<circle cx="355" cy="67" r="3.3" fill="#ee0000" stroke="#301010" stroke-width="0.7"/>
<circle cx="359.1" cy="53.7" r="3.3" fill="#ee0000" stroke="#301010" stroke-width="0.7"/>
<circle cx="361.8" cy="59.8" r="3.3" fill="#ee0000" stroke="#301010" stroke-width="0.7"/>
<circle cx="371.1" cy="58.2" r="3.3" fill="#ee0000" stroke="#301010" stroke-width="0.7"/>
<circle cx="370.4" cy="62" r="3.3" fill="#ee0000" stroke="#301010" stroke-width="0.7"/>
<circle cx="376.5" cy="50.3" r="3.3" fill="#ee0000" stroke="#301010" stroke-width="0.7"/>
<circle cx="379.3" cy="52.7" r="3.3" fill="#ee0000" stroke="#301010" stroke-width="0.7"/>
<circle cx="378.6" cy="55.5" r="3.3" fill="#ee0000" stroke="#301010" stroke-width="0.7"/>
<circle cx="380" cy="39.8" r="3.3" fill="#ee0000" stroke="#301010" stroke-width="0.7"/>
<circle cx="392.5" cy="51.6" r="3.3" fill="#ee0000" stroke="#301010" stroke-width="0.7"/>
<circle cx="395.2" cy="45.6" r="3.3" fill="#ee0000" stroke="#301010" stroke-width="0.7"/>
<circle cx="413.4" cy="42.2" r="3.3" fill="#ee0000" stroke="#301010" stroke-width="0.7"/>
<circle cx="417.3" cy="29.5" r="3.3" fill="#ee0000" stroke="#301010" stroke-width="0.7"/>
<circle cx="434.1" cy="36" r="3.3" fill="#ee0000" stroke="#301010" stroke-width="0.7"/>
<rect x="337.3" y="5.6" width="175.7" height="168" fill="none" stroke="#111" stroke-width="1.2"/>
<rect x="510.3" y="7.2" width="3" height="84.5" fill="#808080"/>
<rect x="444.7" y="6.8" width="66" height="84" fill="#fff" stroke="#444" stroke-width="0.9"/>
<circle cx="454.7" cy="21" r="6" fill="#ee0000" stroke="#1a0808" stroke-width="1"/>
<polygon points="454.5,33.8 448.4,43.8 460.6,43.8" fill="#2020d8" stroke="#111" stroke-width="0.6"/>
<polygon points="454.5,53.6 448.5,63.6 460.5,63.6" fill="#38cdf0" stroke="#111" stroke-width="0.6"/>
<circle cx="454.5" cy="77.8" r="5.8" fill="#fff" stroke="#111" stroke-width="1.1"/>
<text x="463.8" y="25.6" font-family="Liberation Serif" font-size="15.5" fill="#111" stroke="#111" stroke-width="0.2">SBD</text>
<text x="463.8" y="45" font-family="Liberation Serif" font-size="15.5" fill="#111" stroke="#111" stroke-width="0.2">JBSD1</text>
<text x="463.8" y="64" font-family="Liberation Serif" font-size="15.5" fill="#111" stroke="#111" stroke-width="0.2">JBSD2</text>
<text x="463.8" y="83" font-family="Liberation Serif" font-size="15.5" fill="#111" stroke="#111" stroke-width="0.2">PND</text>
<text x="329.3" y="11.6" font-family="Liberation Serif" font-size="14.5" fill="#111" stroke="#111" stroke-width="0.2" text-anchor="end">10<tspan font-size="9.5" dx="1.1" dy="-5">-3</tspan></text>
<text x="329.3" y="45.2" font-family="Liberation Serif" font-size="14.5" fill="#111" stroke="#111" stroke-width="0.2" text-anchor="end">10<tspan font-size="9.5" dx="1.1" dy="-5">-4</tspan></text>
<text x="329.3" y="78.8" font-family="Liberation Serif" font-size="14.5" fill="#111" stroke="#111" stroke-width="0.2" text-anchor="end">10<tspan font-size="9.5" dx="1.1" dy="-5">-5</tspan></text>
<text x="329.3" y="112.4" font-family="Liberation Serif" font-size="14.5" fill="#111" stroke="#111" stroke-width="0.2" text-anchor="end">10<tspan font-size="9.5" dx="1.1" dy="-5">-6</tspan></text>
<text x="329.3" y="146" font-family="Liberation Serif" font-size="14.5" fill="#111" stroke="#111" stroke-width="0.2" text-anchor="end">10<tspan font-size="9.5" dx="1.1" dy="-5">-7</tspan></text>
<text x="329.3" y="179.6" font-family="Liberation Serif" font-size="14.5" fill="#111" stroke="#111" stroke-width="0.2" text-anchor="end">10<tspan font-size="9.5" dx="1.1" dy="-5">-8</tspan></text>
<text x="338.8" y="195.5" font-family="Liberation Serif" font-size="14.5" fill="#111" stroke="#111" stroke-width="0.2" text-anchor="middle">10<tspan font-size="9.3" dy="-5.4">3</tspan></text>
<text x="425.55" y="195.5" font-family="Liberation Serif" font-size="14.5" fill="#111" stroke="#111" stroke-width="0.2" text-anchor="middle">10<tspan font-size="9.3" dy="-5.4">4</tspan></text>
<text x="511.9" y="195.5" font-family="Liberation Serif" font-size="14.5" fill="#111" stroke="#111" stroke-width="0.2" text-anchor="middle">10<tspan font-size="9.3" dy="-5.4">5</tspan></text>
<text x="306.8" y="214" font-family="Liberation Serif" font-size="15.4" fill="#111" stroke="#111" stroke-width="0.2">Threading dislocation density (cm<tspan font-size="9.5" dy="-6">-2</tspan><tspan dy="6">)</tspan></text>
<text transform="translate(293.6,166.2) rotate(-90)" font-family="Liberation Serif" font-size="15.7" fill="#111" stroke="#111" stroke-width="0.2" xml:space="preserve">Leakage current  (A/cm<tspan font-size="10" dy="-6.2">2</tspan><tspan dy="6.2">)</tspan></text>
<text x="1.3" y="225.9" font-family="Liberation Sans" font-weight="bold" font-size="17" fill="#000">(c)</text>
<path d="M75.33,398.2v-1.6M90.47,398.2v-1.6M105.6,398.2v-1.6M120.73,398.2v-1.6M135.87,398.2v-1.6M151,398.2v-1.6M166.13,398.2v-1.6M181.27,398.2v-1.6M196.4,398.2v-1.6M211.53,398.2v-1.6M226.67,398.2v-1.6M60.2,388.41h1.2M60.2,378.61h1.2M60.2,368.82h1.2M60.2,359.02h1.2M60.2,349.23h1.2M60.2,339.44h1.2M60.2,329.64h1.2M60.2,319.85h1.2M60.2,310.06h1.2M60.2,300.26h1.2M60.2,290.47h1.2M60.2,280.68h1.2M60.2,270.88h1.2M60.2,261.09h1.2M60.2,251.29h1.2" stroke="#333" stroke-width="0.7" fill="none"/>
<path d="M67.8,273.8 H140.6 M67.8,273.8 L115.5,311.5" stroke="#111" stroke-width="1" fill="none"/>
<path d="M146,381.7 H238.8 M146,381.7 L125.7,356.8" stroke="#111" stroke-width="1" fill="none"/>
<rect x="60.2" y="241.5" width="181.6" height="156.7" fill="none" stroke="#111" stroke-width="1.2"/>
<polyline points="62,396.5 63.3,393.7 66,389.8 68.8,386.1 73.3,381.3 77.7,378.6 82.2,376.2 86.5,373.9 91,371 95.5,368.3 100,366.2 104.5,364.1 109.1,362.2 113.6,360.1 118.2,358.1 122.7,355.8 127.3,353.2 131.8,350.5 136.4,347.6 140.9,344.3 145.5,340.5 150,336.8 154.5,332.6 159.1,328.3 163.6,324.2 168.2,320 172.7,316.4 177.3,312.3 181.8,308.8 186.4,305 190.9,301.2 195.5,297.2 200,293 204.5,289.6 209.1,285.9 213.6,282.3 218.2,278.9 222.7,275.6 227.3,271.9 231.8,268.4 236.4,265.5 241.8,262" fill="none" stroke="#111" stroke-width="0.8"/>
<circle cx="62" cy="396.5" r="2.15" fill="#1a1aa8" stroke="#0a0a40" stroke-width="0.5"/>
<circle cx="63.3" cy="393.7" r="2.15" fill="#1a1aa8" stroke="#0a0a40" stroke-width="0.5"/>
<circle cx="66" cy="389.8" r="2.15" fill="#1a1aa8" stroke="#0a0a40" stroke-width="0.5"/>
<circle cx="68.8" cy="386.1" r="2.15" fill="#1a1aa8" stroke="#0a0a40" stroke-width="0.5"/>
<circle cx="73.3" cy="381.3" r="2.15" fill="#1a1aa8" stroke="#0a0a40" stroke-width="0.5"/>
<circle cx="77.7" cy="378.6" r="2.15" fill="#1a1aa8" stroke="#0a0a40" stroke-width="0.5"/>
<circle cx="82.2" cy="376.2" r="2.15" fill="#1a1aa8" stroke="#0a0a40" stroke-width="0.5"/>
<circle cx="86.5" cy="373.9" r="2.15" fill="#1a1aa8" stroke="#0a0a40" stroke-width="0.5"/>
<circle cx="91" cy="371" r="2.15" fill="#1a1aa8" stroke="#0a0a40" stroke-width="0.5"/>
<circle cx="95.5" cy="368.3" r="2.15" fill="#1a1aa8" stroke="#0a0a40" stroke-width="0.5"/>
<circle cx="100" cy="366.2" r="2.15" fill="#1a1aa8" stroke="#0a0a40" stroke-width="0.5"/>
<circle cx="104.5" cy="364.1" r="2.15" fill="#1a1aa8" stroke="#0a0a40" stroke-width="0.5"/>
<circle cx="109.1" cy="362.2" r="2.15" fill="#1a1aa8" stroke="#0a0a40" stroke-width="0.5"/>
<circle cx="113.6" cy="360.1" r="2.15" fill="#1a1aa8" stroke="#0a0a40" stroke-width="0.5"/>
<circle cx="118.2" cy="358.1" r="2.15" fill="#1a1aa8" stroke="#0a0a40" stroke-width="0.5"/>
<circle cx="122.7" cy="355.8" r="2.15" fill="#1a1aa8" stroke="#0a0a40" stroke-width="0.5"/>
<circle cx="127.3" cy="353.2" r="2.15" fill="#1a1aa8" stroke="#0a0a40" stroke-width="0.5"/>
<circle cx="131.8" cy="350.5" r="2.15" fill="#1a1aa8" stroke="#0a0a40" stroke-width="0.5"/>
<circle cx="136.4" cy="347.6" r="2.15" fill="#1a1aa8" stroke="#0a0a40" stroke-width="0.5"/>
<circle cx="140.9" cy="344.3" r="2.15" fill="#1a1aa8" stroke="#0a0a40" stroke-width="0.5"/>
<circle cx="145.5" cy="340.5" r="2.15" fill="#1a1aa8" stroke="#0a0a40" stroke-width="0.5"/>
<circle cx="150" cy="336.8" r="2.15" fill="#1a1aa8" stroke="#0a0a40" stroke-width="0.5"/>
<circle cx="154.5" cy="332.6" r="2.15" fill="#1a1aa8" stroke="#0a0a40" stroke-width="0.5"/>
<circle cx="159.1" cy="328.3" r="2.15" fill="#1a1aa8" stroke="#0a0a40" stroke-width="0.5"/>
<circle cx="163.6" cy="324.2" r="2.15" fill="#1a1aa8" stroke="#0a0a40" stroke-width="0.5"/>
<circle cx="168.2" cy="320" r="2.15" fill="#1a1aa8" stroke="#0a0a40" stroke-width="0.5"/>
<circle cx="172.7" cy="316.4" r="2.15" fill="#1a1aa8" stroke="#0a0a40" stroke-width="0.5"/>
<circle cx="177.3" cy="312.3" r="2.15" fill="#1a1aa8" stroke="#0a0a40" stroke-width="0.5"/>
<circle cx="181.8" cy="308.8" r="2.15" fill="#1a1aa8" stroke="#0a0a40" stroke-width="0.5"/>
<circle cx="186.4" cy="305" r="2.15" fill="#1a1aa8" stroke="#0a0a40" stroke-width="0.5"/>
<circle cx="190.9" cy="301.2" r="2.15" fill="#1a1aa8" stroke="#0a0a40" stroke-width="0.5"/>
<circle cx="195.5" cy="297.2" r="2.15" fill="#1a1aa8" stroke="#0a0a40" stroke-width="0.5"/>
<circle cx="200" cy="293" r="2.15" fill="#1a1aa8" stroke="#0a0a40" stroke-width="0.5"/>
<circle cx="204.5" cy="289.6" r="2.15" fill="#1a1aa8" stroke="#0a0a40" stroke-width="0.5"/>
<circle cx="209.1" cy="285.9" r="2.15" fill="#1a1aa8" stroke="#0a0a40" stroke-width="0.5"/>
<circle cx="213.6" cy="282.3" r="2.15" fill="#1a1aa8" stroke="#0a0a40" stroke-width="0.5"/>
<circle cx="218.2" cy="278.9" r="2.15" fill="#1a1aa8" stroke="#0a0a40" stroke-width="0.5"/>
<circle cx="222.7" cy="275.6" r="2.15" fill="#1a1aa8" stroke="#0a0a40" stroke-width="0.5"/>
<circle cx="227.3" cy="271.9" r="2.15" fill="#1a1aa8" stroke="#0a0a40" stroke-width="0.5"/>
<circle cx="231.8" cy="268.4" r="2.15" fill="#1a1aa8" stroke="#0a0a40" stroke-width="0.5"/>
<circle cx="236.4" cy="265.5" r="2.15" fill="#1a1aa8" stroke="#0a0a40" stroke-width="0.5"/>
<circle cx="241.8" cy="262" r="2.15" fill="#1a1aa8" stroke="#0a0a40" stroke-width="0.5"/>
<polyline points="63.1,397.2 65.4,392 68.2,388.1 71.1,385 74.3,381.8 78.2,379 82.8,375.6 87.3,370.2 91.9,361.2 96.3,350.6 100.9,340.6 105.5,330.8 110,322.8 114.6,316.1 119.2,309.8 123.7,304 128.3,299.3 132.8,294.9 137.4,290.8 141.9,287 146.5,283.6 151,280.5 155.6,277.8 160.1,275.2 164.7,272.8 169.2,270.6 173.8,268.5 178.3,266.5 182.9,264.5 187.4,262.5 192,260.6 196.5,259 201.1,257.6 205.6,256 210.2,254.5 214.7,253.1 219.3,251.6 223.8,250.2 228.4,248.6 232.9,247.2 237.5,245.6 242,244.3" fill="none" stroke="#111" stroke-width="1"/>
<circle cx="63.1" cy="397.2" r="2.2" fill="#fff" stroke="#2a2a2a" stroke-width="0.75"/>
<circle cx="65.4" cy="392" r="2.2" fill="#fff" stroke="#2a2a2a" stroke-width="0.75"/>
<circle cx="68.2" cy="388.1" r="2.2" fill="#fff" stroke="#2a2a2a" stroke-width="0.75"/>
<circle cx="71.1" cy="385" r="2.2" fill="#fff" stroke="#2a2a2a" stroke-width="0.75"/>
<circle cx="74.3" cy="381.8" r="2.2" fill="#fff" stroke="#2a2a2a" stroke-width="0.75"/>
<circle cx="78.2" cy="379" r="2.2" fill="#fff" stroke="#2a2a2a" stroke-width="0.75"/>
<circle cx="82.8" cy="375.6" r="2.2" fill="#fff" stroke="#2a2a2a" stroke-width="0.75"/>
<circle cx="87.3" cy="370.2" r="2.2" fill="#fff" stroke="#2a2a2a" stroke-width="0.75"/>
<circle cx="91.9" cy="361.2" r="2.2" fill="#fff" stroke="#2a2a2a" stroke-width="0.75"/>
<circle cx="96.3" cy="350.6" r="2.2" fill="#fff" stroke="#2a2a2a" stroke-width="0.75"/>
<circle cx="100.9" cy="340.6" r="2.2" fill="#fff" stroke="#2a2a2a" stroke-width="0.75"/>
<circle cx="105.5" cy="330.8" r="2.2" fill="#fff" stroke="#2a2a2a" stroke-width="0.75"/>
<circle cx="110" cy="322.8" r="2.2" fill="#fff" stroke="#2a2a2a" stroke-width="0.75"/>
<circle cx="114.6" cy="316.1" r="2.2" fill="#fff" stroke="#2a2a2a" stroke-width="0.75"/>
<circle cx="119.2" cy="309.8" r="2.2" fill="#fff" stroke="#2a2a2a" stroke-width="0.75"/>
<circle cx="123.7" cy="304" r="2.2" fill="#fff" stroke="#2a2a2a" stroke-width="0.75"/>
<circle cx="128.3" cy="299.3" r="2.2" fill="#fff" stroke="#2a2a2a" stroke-width="0.75"/>
<circle cx="132.8" cy="294.9" r="2.2" fill="#fff" stroke="#2a2a2a" stroke-width="0.75"/>
<circle cx="137.4" cy="290.8" r="2.2" fill="#fff" stroke="#2a2a2a" stroke-width="0.75"/>
<circle cx="141.9" cy="287" r="2.2" fill="#fff" stroke="#2a2a2a" stroke-width="0.75"/>
<circle cx="146.5" cy="283.6" r="2.2" fill="#fff" stroke="#2a2a2a" stroke-width="0.75"/>
<circle cx="151" cy="280.5" r="2.2" fill="#fff" stroke="#2a2a2a" stroke-width="0.75"/>
<circle cx="155.6" cy="277.8" r="2.2" fill="#fff" stroke="#2a2a2a" stroke-width="0.75"/>
<circle cx="160.1" cy="275.2" r="2.2" fill="#fff" stroke="#2a2a2a" stroke-width="0.75"/>
<circle cx="164.7" cy="272.8" r="2.2" fill="#fff" stroke="#2a2a2a" stroke-width="0.75"/>
<circle cx="169.2" cy="270.6" r="2.2" fill="#fff" stroke="#2a2a2a" stroke-width="0.75"/>
<circle cx="173.8" cy="268.5" r="2.2" fill="#fff" stroke="#2a2a2a" stroke-width="0.75"/>
<circle cx="178.3" cy="266.5" r="2.2" fill="#fff" stroke="#2a2a2a" stroke-width="0.75"/>
<circle cx="182.9" cy="264.5" r="2.2" fill="#fff" stroke="#2a2a2a" stroke-width="0.75"/>
<circle cx="187.4" cy="262.5" r="2.2" fill="#fff" stroke="#2a2a2a" stroke-width="0.75"/>
<circle cx="192" cy="260.6" r="2.2" fill="#fff" stroke="#2a2a2a" stroke-width="0.75"/>
<circle cx="196.5" cy="259" r="2.2" fill="#fff" stroke="#2a2a2a" stroke-width="0.75"/>
<circle cx="201.1" cy="257.6" r="2.2" fill="#fff" stroke="#2a2a2a" stroke-width="0.75"/>
<circle cx="205.6" cy="256" r="2.2" fill="#fff" stroke="#2a2a2a" stroke-width="0.75"/>
<circle cx="210.2" cy="254.5" r="2.2" fill="#fff" stroke="#2a2a2a" stroke-width="0.75"/>
<circle cx="214.7" cy="253.1" r="2.2" fill="#fff" stroke="#2a2a2a" stroke-width="0.75"/>
<circle cx="219.3" cy="251.6" r="2.2" fill="#fff" stroke="#2a2a2a" stroke-width="0.75"/>
<circle cx="223.8" cy="250.2" r="2.2" fill="#fff" stroke="#2a2a2a" stroke-width="0.75"/>
<circle cx="228.4" cy="248.6" r="2.2" fill="#fff" stroke="#2a2a2a" stroke-width="0.75"/>
<circle cx="232.9" cy="247.2" r="2.2" fill="#fff" stroke="#2a2a2a" stroke-width="0.75"/>
<circle cx="237.5" cy="245.6" r="2.2" fill="#fff" stroke="#2a2a2a" stroke-width="0.75"/>
<circle cx="242" cy="244.3" r="2.2" fill="#fff" stroke="#2a2a2a" stroke-width="0.75"/>
<text font-family="Liberation Serif" font-size="14.5" fill="#111" stroke="#111" stroke-width="0.2"><tspan x="76" y="256.6">With nano-</tspan><tspan x="76" y="269.6">scale pits</tspan></text>
<text font-family="Liberation Serif" font-size="14.6" fill="#111" stroke="#111" stroke-width="0.2"><tspan x="150.6" y="364.7">Without nano-</tspan><tspan x="150.6" y="376.6">scale pits</tspan></text>
<text x="27.4" y="248.5" font-family="Liberation Serif" font-size="14.5" fill="#111" stroke="#111" stroke-width="0.2">10<tspan font-size="9.8" dx="0.6" dy="-4.8">-4</tspan></text>
<text x="27.4" y="287.68" font-family="Liberation Serif" font-size="14.5" fill="#111" stroke="#111" stroke-width="0.2">10<tspan font-size="9.8" dx="0.6" dy="-4.8">-6</tspan></text>
<text x="27.4" y="326.85" font-family="Liberation Serif" font-size="14.5" fill="#111" stroke="#111" stroke-width="0.2">10<tspan font-size="9.8" dx="0.6" dy="-4.8">-8</tspan></text>
<text x="27.4" y="366.02" font-family="Liberation Serif" font-size="14.5" fill="#111" stroke="#111" stroke-width="0.2">10<tspan font-size="9.8" dx="0.6" dy="-4.8">-10</tspan></text>
<text x="27.4" y="405.2" font-family="Liberation Serif" font-size="14.5" fill="#111" stroke="#111" stroke-width="0.2">10<tspan font-size="9.8" dx="0.6" dy="-4.8">-12</tspan></text>
<text x="59.3" y="415.7" font-family="Liberation Serif" font-size="15.5" fill="#111" stroke="#111" stroke-width="0.2" text-anchor="middle">0</text>
<text x="119.63" y="415.7" font-family="Liberation Serif" font-size="15.5" fill="#111" stroke="#111" stroke-width="0.2" text-anchor="middle">400</text>
<text x="179.27" y="415.7" font-family="Liberation Serif" font-size="15.5" fill="#111" stroke="#111" stroke-width="0.2" text-anchor="middle">800</text>
<text x="237.4" y="415.7" font-family="Liberation Serif" font-size="15.5" fill="#111" stroke="#111" stroke-width="0.2" text-anchor="middle">1,200</text>
<text x="94.3" y="435.6" font-family="Liberation Serif" font-size="15.2" fill="#111" stroke="#111" stroke-width="0.2">Reverse voltage (V)</text>
<text transform="translate(13.4,394.8) rotate(-90)" font-family="Liberation Serif" font-size="15.05" fill="#111" stroke="#111" stroke-width="0.2">Leakage current (A/cm<tspan font-size="9.8" dy="-6">2</tspan><tspan dy="6">)</tspan></text>
<text x="253.6" y="228.2" font-family="Liberation Sans" font-weight="bold" font-size="17" fill="#000">(d)</text>
<defs>
<clipPath id="cD"><rect x="302.3" y="231.4" width="207.3" height="204.1"/></clipPath>
<clipPath id="cDb"><rect x="309.5" y="380" width="190" height="50.5" rx="10"/></clipPath>
<linearGradient id="fadeL" x1="0" x2="1" y1="0" y2="0"><stop offset="0" stop-color="#02050a" stop-opacity="1"/><stop offset="1" stop-color="#02050a" stop-opacity="0"/></linearGradient>
<linearGradient id="fadeR" x1="0" x2="1" y1="0" y2="0"><stop offset="0" stop-color="#02050a" stop-opacity="0"/><stop offset="1" stop-color="#02050a" stop-opacity="1"/></linearGradient>
<filter id="bD1" color-interpolation-filters="sRGB" x="-50%" y="-10%" width="200%" height="120%"><feGaussianBlur stdDeviation="1.6"/></filter>
<filter id="bD2" color-interpolation-filters="sRGB" x="-50%" y="-10%" width="200%" height="120%"><feGaussianBlur stdDeviation="3"/></filter>
<filter id="bD0" color-interpolation-filters="sRGB"><feGaussianBlur stdDeviation="0.35"/></filter>
</defs>
<g clip-path="url(#cD)">
<rect x="302.3" y="231.4" width="207.3" height="204.1" fill="#02050a"/>
<g filter="url(#bD2)"><rect x="462" y="262" width="20" height="128" fill="#0e2640"/><rect x="336" y="262" width="18" height="135" fill="#081a33"/><path d="M466,266 L475,266 L477,340 L475,395 L467,395 L465,330 Z" fill="#1c3c5e"/></g>
<g filter="url(#bD1)"><path d="M345,258 L351,258 L352,300 L350.5,340 L349,370 L346,370 L346.5,330 L345.5,290 Z" fill="#174e94"/></g>
<path d="M308.6,256 V420 Q308.6,431 319.6,431 H492 Q503.2,431 503.2,420 V247 Q503.2,236 493,236" fill="none" stroke="#163f74" stroke-width="1.5"/>
<g filter="url(#bD0)"><rect x="356.4" y="262.6" width="98.6" height="140.5" fill="#010a2c"/></g>
<g filter="url(#bD1)"><rect x="352" y="234" width="117" height="28" fill="#010720"/></g>
<g clip-path="url(#cDb)"><rect x="310.7" y="402.5" width="188" height="27" fill="#010a2c"/></g>
<g filter="url(#bD0)"><rect x="345" y="233.42" width="131" height="2.35" fill="#22a8f0" opacity="0.45"/><rect x="345" y="237.19" width="131" height="2.35" fill="#22a8f0"/><rect x="345" y="240.96" width="131" height="2.35" fill="#22a8f0"/><rect x="345" y="244.73" width="131" height="2.35" fill="#22a8f0"/><rect x="345" y="248.5" width="131" height="2.35" fill="#22a8f0"/><rect x="345" y="252.27" width="131" height="2.35" fill="#22a8f0"/><rect x="345" y="256.04" width="131" height="2.35" fill="#22a8f0"/><rect x="345" y="259.81" width="131" height="2.35" fill="#22a8f0"/><rect x="356.4" y="263.58" width="98.6" height="2.35" fill="#22a8f0"/><rect x="356.4" y="267.35" width="98.6" height="2.35" fill="#22a8f0"/><rect x="356.4" y="271.12" width="98.6" height="2.35" fill="#22a8f0"/><rect x="356.4" y="274.89" width="98.6" height="2.35" fill="#22a8f0"/><rect x="356.4" y="278.66" width="98.6" height="2.35" fill="#22a8f0"/><rect x="356.4" y="282.44" width="98.6" height="2.35" fill="#22a8f0"/><rect x="356.4" y="286.2" width="98.6" height="2.35" fill="#22a8f0"/><rect x="356.4" y="289.97" width="98.6" height="2.35" fill="#22a8f0"/><rect x="356.4" y="293.75" width="98.6" height="2.35" fill="#22a8f0"/><rect x="356.4" y="297.51" width="98.6" height="2.35" fill="#22a8f0"/><rect x="356.4" y="301.28" width="98.6" height="2.35" fill="#22a8f0"/><rect x="356.4" y="305.06" width="98.6" height="2.35" fill="#22a8f0"/><rect x="356.4" y="308.82" width="98.6" height="2.35" fill="#22a8f0"/><rect x="356.4" y="312.59" width="98.6" height="2.35" fill="#22a8f0"/><rect x="356.4" y="316.36" width="98.6" height="2.35" fill="#22a8f0"/><rect x="356.4" y="320.13" width="98.6" height="2.35" fill="#22a8f0"/><rect x="356.4" y="323.9" width="98.6" height="2.35" fill="#22a8f0"/><rect x="356.4" y="327.68" width="98.6" height="2.35" fill="#22a8f0"/><rect x="356.4" y="331.44" width="98.6" height="2.35" fill="#22a8f0"/><rect x="356.4" y="335.21" width="98.6" height="2.35" fill="#22a8f0"/><rect x="356.4" y="338.98" width="98.6" height="2.35" fill="#22a8f0"/><rect x="356.4" y="342.75" width="98.6" height="2.35" fill="#22a8f0"/><rect x="356.4" y="346.52" width="98.6" height="2.35" fill="#22a8f0"/><rect x="356.4" y="350.3" width="98.6" height="2.35" fill="#22a8f0"/><rect x="356.4" y="354.06" width="98.6" height="2.35" fill="#22a8f0"/><rect x="356.4" y="357.83" width="98.6" height="2.35" fill="#22a8f0"/><rect x="356.4" y="361.6" width="98.6" height="2.35" fill="#22a8f0"/><rect x="356.4" y="365.37" width="98.6" height="2.35" fill="#22a8f0"/><rect x="356.4" y="369.14" width="98.6" height="2.35" fill="#22a8f0"/><rect x="356.4" y="372.92" width="98.6" height="2.35" fill="#22a8f0"/><rect x="356.4" y="376.69" width="98.6" height="2.35" fill="#22a8f0"/><rect x="356.4" y="380.45" width="98.6" height="2.35" fill="#22a8f0"/><rect x="356.4" y="384.22" width="98.6" height="2.35" fill="#22a8f0"/><rect x="356.4" y="387.99" width="98.6" height="2.35" fill="#22a8f0"/><rect x="356.4" y="391.76" width="98.6" height="2.35" fill="#22a8f0"/><rect x="356.4" y="395.54" width="98.6" height="2.35" fill="#22a8f0"/><rect x="356.4" y="399.31" width="98.6" height="2.35" fill="#22a8f0"/></g>
<g clip-path="url(#cDb)"><g filter="url(#bD0)"><rect x="310.7" y="403.07" width="187.9" height="2.35" fill="#22a8f0"/><rect x="310.7" y="406.84" width="187.9" height="2.35" fill="#22a8f0"/><rect x="310.7" y="410.61" width="187.9" height="2.35" fill="#22a8f0"/><rect x="310.7" y="414.38" width="187.9" height="2.35" fill="#22a8f0"/><rect x="310.7" y="418.15" width="187.9" height="2.35" fill="#22a8f0"/><rect x="310.7" y="421.93" width="187.9" height="2.35" fill="#22a8f0"/><rect x="310.7" y="425.69" width="187.9" height="2.35" fill="#22a8f0" opacity="0.55"/></g></g>
<rect x="344" y="232" width="9" height="31" fill="url(#fadeL)"/>
<rect x="467" y="232" width="10" height="31" fill="url(#fadeR)"/>
<g filter="url(#bD1)"><ellipse cx="438.5" cy="240" rx="3.5" ry="6" fill="#02050a" opacity="0.7"/></g>
<g filter="url(#bD0)"><rect x="311.2" y="255.8" width="16" height="2.1" fill="#2aa0ea"/><rect x="311.2" y="259.4" width="16" height="2.1" fill="#2aa0ea"/></g>
</g>
<rect x="377.6" y="320.4" width="34" height="45" rx="7.5" fill="none" stroke="#ee1a1a" stroke-width="2.1" stroke-dasharray="6 3"/>
<rect x="427.6" y="295.4" width="33.6" height="45" rx="7.5" fill="none" stroke="#ee1a1a" stroke-width="2.1" stroke-dasharray="6 3"/>
<line x1="461.5" y1="300.5" x2="514" y2="232.5" stroke="#f3a0ee" stroke-width="1.5" stroke-dasharray="4.5 3"/>
<line x1="460.5" y1="320.5" x2="512.5" y2="428.5" stroke="#f3a0ee" stroke-width="1.5" stroke-dasharray="4.5 3"/>
<text x="312.2" y="246.2" font-family="Liberation Sans" font-size="9.6" fill="#e6e6e6">(b)</text>
<text transform="translate(340.6,349.3) rotate(-90)" font-family="Liberation Sans" font-size="13.2" fill="#f4f4f4">Bonding wire</text>
<text transform="translate(493.7,356.6) rotate(-90)" font-family="Liberation Sans" font-size="13.2" fill="#f4f4f4">Bonding wire</text>
<rect x="361.3" y="370.8" width="67.6" height="18.5" fill="#16a4e6"/>
<text x="395.1" y="385.2" font-family="Liberation Sans" font-size="13.2" fill="#fff" text-anchor="middle">Common</text>
<rect x="416.3" y="345.5" width="65" height="19.6" fill="#f8a2ee"/>
<text x="449" y="360.8" font-family="Liberation Sans" font-size="14.4" fill="#fff" text-anchor="middle" textLength="52" lengthAdjust="spacingAndGlyphs">Opposite</text>
<rect x="304" y="384" width="37.7" height="20.6" fill="#16a4e6"/>
<text x="322.8" y="399.6" font-family="Liberation Serif" font-size="13.5" fill="#fff" text-anchor="middle">[1100]</text>
<rect x="311.5" y="388.2" width="5.2" height="0.9" fill="#fff"/>
<rect x="341.8" y="414.2" width="35.7" height="19.6" fill="#16a4e6"/>
<text x="359.6" y="429.3" font-family="Liberation Serif" font-size="13.5" fill="#fff" text-anchor="middle">[1120]</text>
<rect x="359.9" y="418" width="5.2" height="0.9" fill="#fff"/>
<rect x="419.8" y="410.9" width="65.8" height="20.1" fill="#16a4e6"/>
<text x="452" y="426.1" font-family="Liberation Sans" font-size="13.2" fill="#fff" text-anchor="middle">down-step</text>
<path d="M321.6,427 V409.5 M321.6,427 H337.5" stroke="#fff" stroke-width="1.6" fill="none"/>
<polygon points="321.6,406.3 319.2,411 324,411" fill="#fff"/>
<polygon points="340.8,427 336,424.6 336,429.4" fill="#fff"/>
<path d="M391.8,421.5 H406" stroke="#fff" stroke-width="4.2"/>
<polygon points="418,421.5 404.5,415.8 404.5,427.2" fill="#fff"/>
</svg>
</body></html>
